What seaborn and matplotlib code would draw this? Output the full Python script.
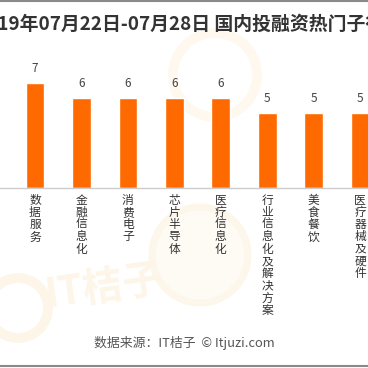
import matplotlib
matplotlib.use("Agg")
import matplotlib.pyplot as plt
import seaborn as sns
from matplotlib.lines import Line2D
from matplotlib.patches import Circle

# data (the source image is cropped at both sides)
categories = ["数据服务", "金融信息化", "消费电子", "芯片半导体",
              "医疗信息化", "行业信息化及解决方案", "美食餐饮", "医疗器械及硬件"]
counts = [7, 6, 6, 6, 6, 5, 5, 5]
title = "2019年07月22日-07月28日 国内投融资热门子行业"
source = "数据来源：IT桔子  © Itjuzi.com"

sns.set_theme(style="white")
plt.rcParams["font.family"] = ["Noto Sans CJK SC", "DejaVu Sans"]

W = H = 368
fig = plt.figure(figsize=(3.68, 3.68), dpi=100)
fig.patch.set_facecolor("white")

# faint "IT桔子" watermarks
wm = "#fdf5e8"
fig.text(42 / W, 1 - 287 / H, "IT桔子", fontsize=29, fontweight="bold", color=wm,
         rotation=8, ha="left", va="center", zorder=0)
fig.patches.append(Circle((18 / W, 1 - 308 / H), 30 / W, transform=fig.transFigure,
                          facecolor="none", edgecolor=wm, lw=7, zorder=0))
fig.patches.append(Circle((215 / W, 1 - 75 / H), 42 / W, transform=fig.transFigure,
                          facecolor="none", edgecolor="#fef8ee", lw=7, zorder=0))
fig.patches.append(Circle((200 / W, 1 - 255 / H), 48 / W, transform=fig.transFigure,
                          facecolor="#fefbf4", edgecolor="#fdf6ea", lw=5, zorder=0))

# axes: baseline at y=188px, 15px per unit
ax = fig.add_axes([0, 1 - 188 / H, 1, 128 / H])
ax.set_zorder(2)
ax.patch.set_alpha(0)
sns.barplot(x=categories, y=counts, color="#ff6a00", width=0.4, saturation=1, ax=ax)
ax.set_xlim(-0.754, 7.17)
ax.set_ylim(0, 128 / 15)
ax.bar_label(ax.containers[0], padding=6, fontsize=8.5, color="#444444")

ax.set_xticks(range(len(categories)))
ax.set_xticklabels(["\n".join(c) for c in categories], fontsize=8.5, color="#333333",
                   linespacing=0.93, va="top")
ax.tick_params(axis="x", length=0, pad=4)
ax.set_yticks([])
ax.set_xlabel("")
ax.set_ylabel("")
for s in ["top", "left", "right"]:
    ax.spines[s].set_visible(False)
ax.spines["bottom"].set_color("#cccccc")
ax.spines["bottom"].set_linewidth(1)

# title, cut at the left edge like the screenshot
fig.text(-25 / W, 1 - 24 / H, title, fontsize=13.6, fontweight="bold", color="#333333",
         ha="left", va="center", zorder=3)
fig.text(184 / W, 1 - 343 / H, source, fontsize=9.3, color="#555555",
         ha="center", va="center", zorder=3)

# grey frame lines at top and bottom
fig.add_artist(Line2D([0, 1], [1 - 1 / H, 1 - 1 / H], transform=fig.transFigure,
                      color="#8a8a8a", lw=1.5))
fig.add_artist(Line2D([0, 1], [1 - 366 / H, 1 - 366 / H], transform=fig.transFigure,
                      color="#8a8a8a", lw=1.5))

fig.savefig("out.png", dpi=100)
